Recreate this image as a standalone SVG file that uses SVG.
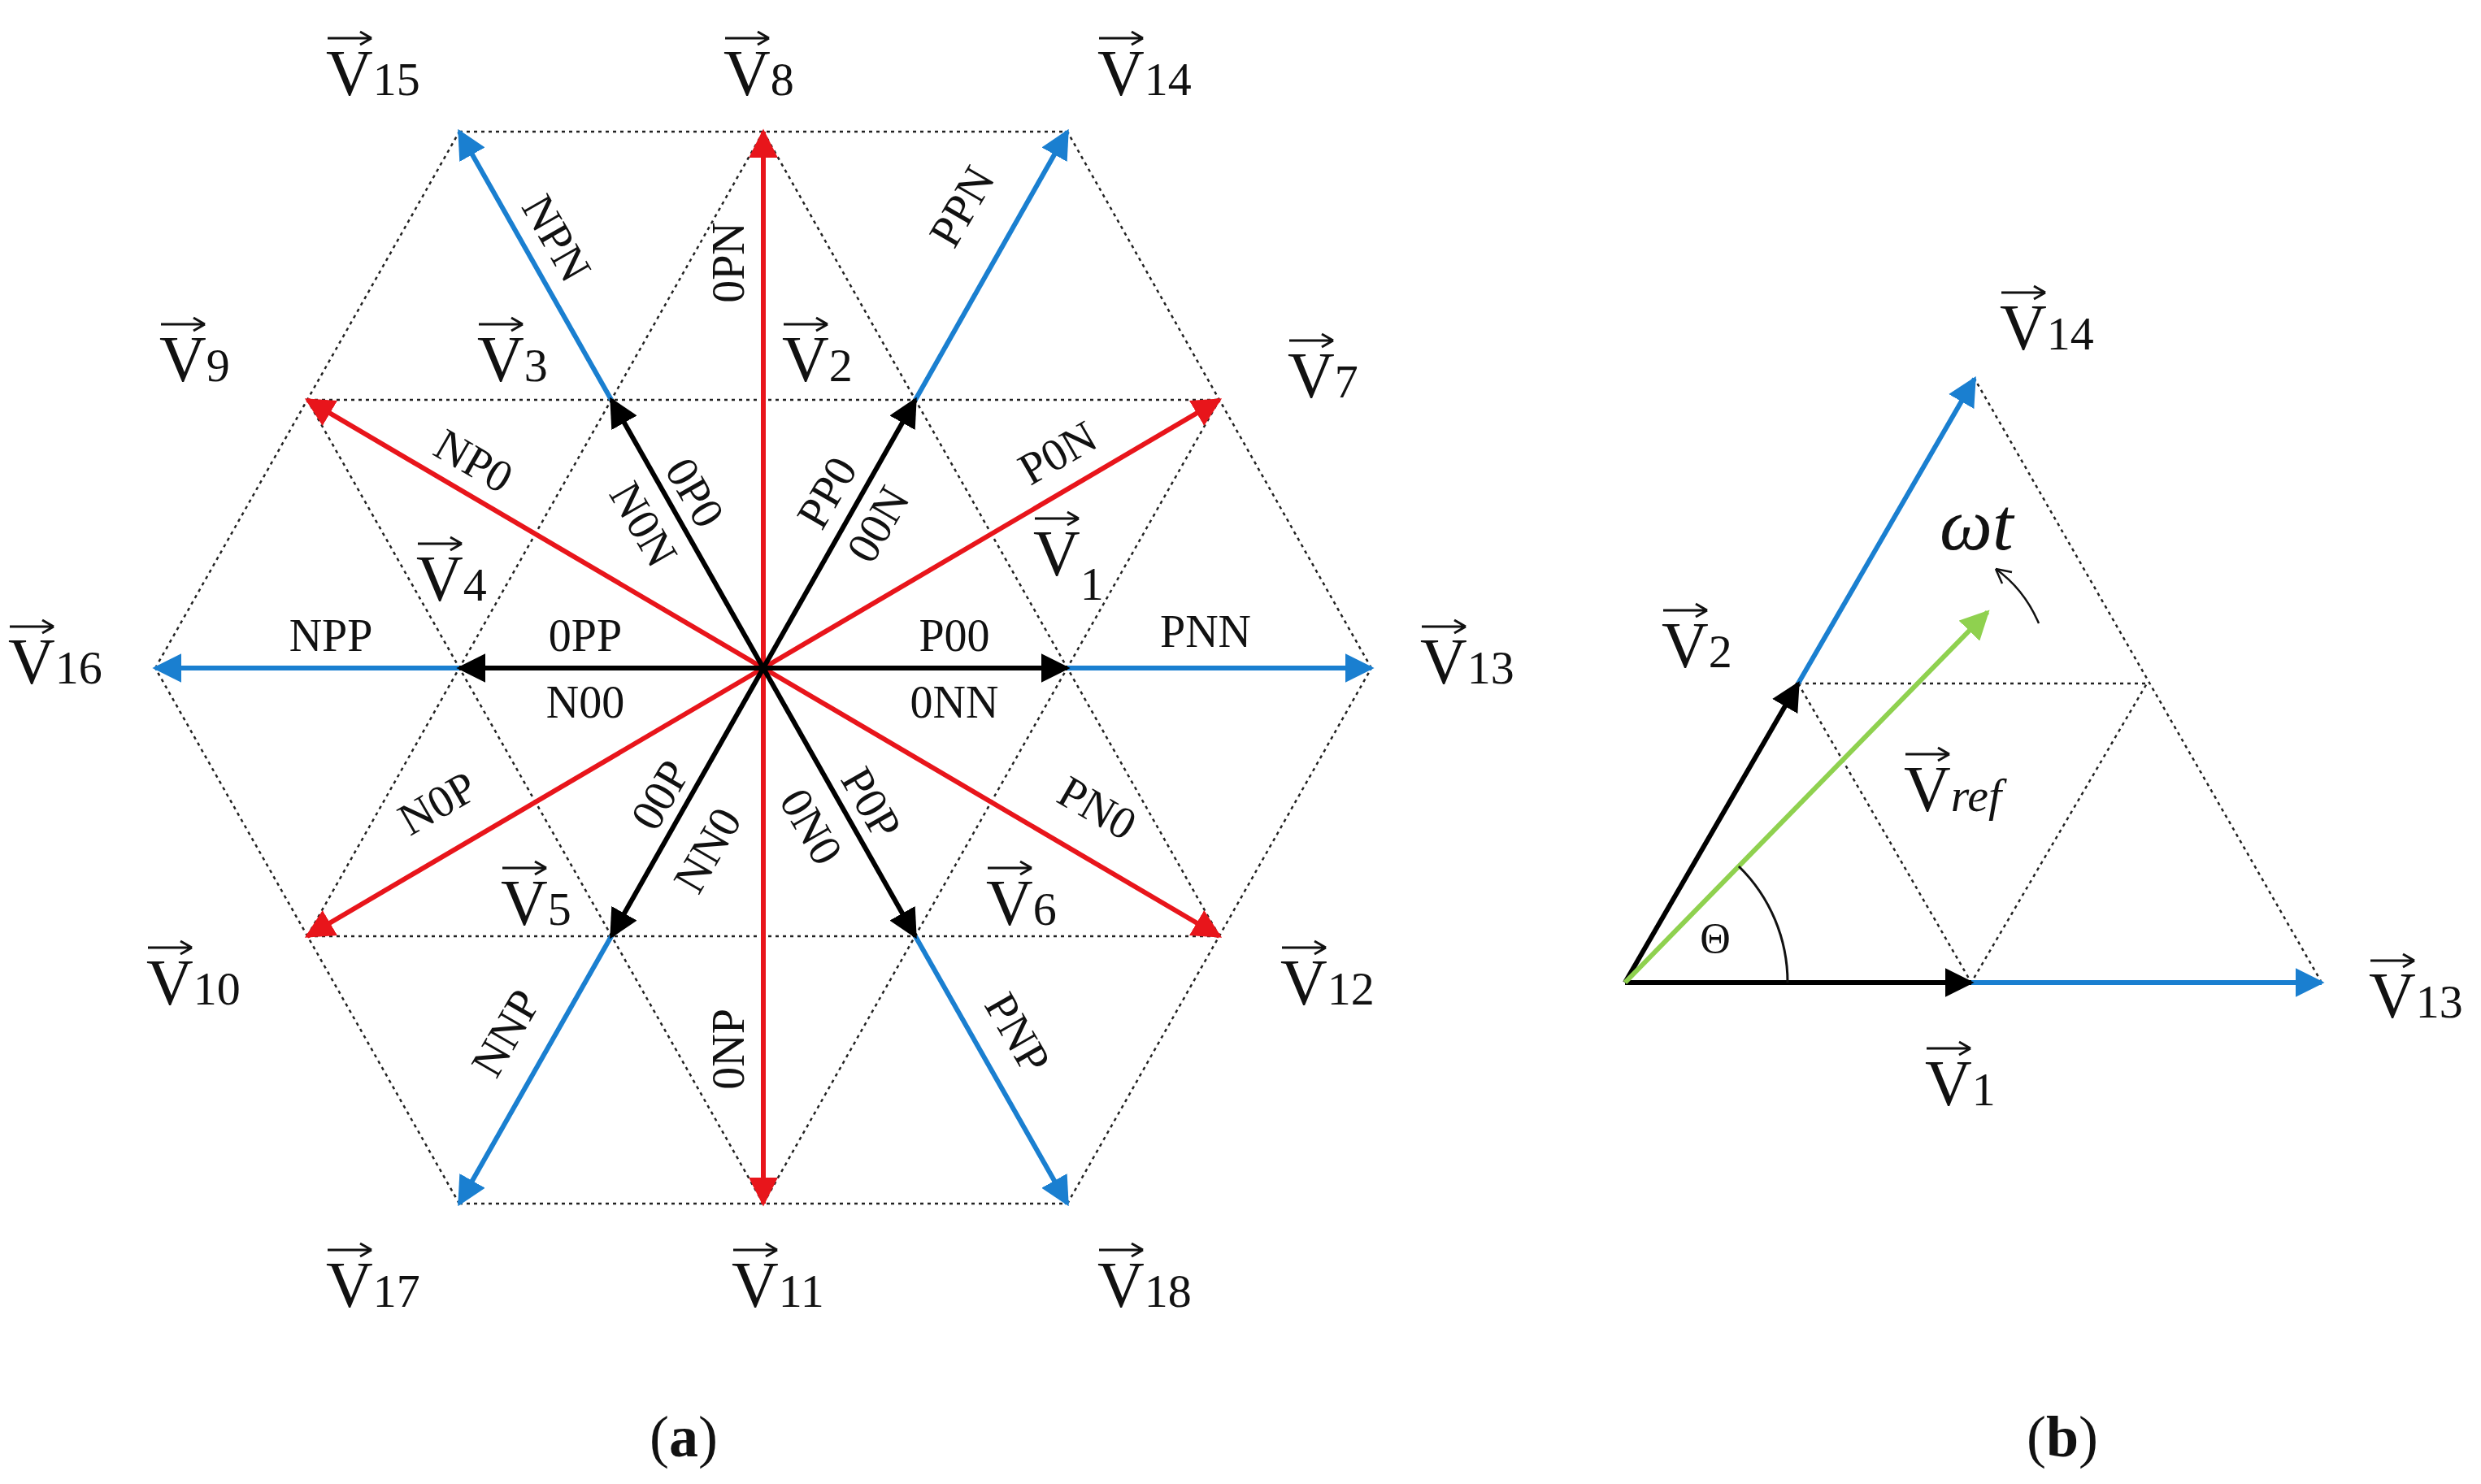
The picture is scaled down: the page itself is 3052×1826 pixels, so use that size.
<svg xmlns="http://www.w3.org/2000/svg" xmlns:xlink="http://www.w3.org/1999/xlink" width="3052" height="1826" viewBox="0 0 3052 1826">
<style>
.dot{stroke:#222;stroke-width:2.5;stroke-dasharray:4 5;fill:none}
.v{stroke-width:6;fill:none}
.k{stroke:#000}.r{stroke:#e8151b}.b{stroke:#1a7fd0}.g{stroke:#8fd14f}
.st{font-family:"Liberation Serif",serif;font-size:56px;text-anchor:middle;dominant-baseline:central;fill:#111}
.vl{font-family:"Liberation Serif",serif;font-size:80px;fill:#111}
.sub{font-size:58px}
.ov{stroke:#111;stroke-width:3;fill:none}
</style>
<defs>
<marker id="ak" viewBox="0 0 10 10" refX="9" refY="5" markerWidth="6" markerHeight="6" orient="auto" markerUnits="strokeWidth"><path d="M0,0L10,5L0,10z" fill="#000"/></marker>
<marker id="ar" viewBox="0 0 10 10" refX="9" refY="5" markerWidth="6" markerHeight="6" orient="auto" markerUnits="strokeWidth"><path d="M0,0L10,5L0,10z" fill="#e8151b"/></marker>
<marker id="ab" viewBox="0 0 10 10" refX="9" refY="5" markerWidth="6" markerHeight="6" orient="auto" markerUnits="strokeWidth"><path d="M0,0L10,5L0,10z" fill="#1a7fd0"/></marker>
<marker id="ag" viewBox="0 0 10 10" refX="9" refY="5" markerWidth="6" markerHeight="6" orient="auto" markerUnits="strokeWidth"><path d="M0,0L10,5L0,10z" fill="#8fd14f"/></marker>
<path id="ov" d="M0,0 h54 M54,0 l-14,-8 M54,0 l-14,8" class="ov"/>
</defs>
<rect width="3052" height="1826" fill="#fff"/>
<g id="lattice-a">
<path class="dot" d="M565,162H1313 M378,492H1500 M191,822H1687 M378,1152H1500 M565,1481H1313
M191,822L565,162 M378,1152L939,162 M565,1481L1313,162 M939,1481L1500,492 M1313,1481L1687,822
M1687,822L1313,162 M1500,1152L939,162 M1313,1481L565,162 M939,1481L378,492 M565,1481L191,822"/>
</g>
<g id="connectors">
<g class="v b" marker-end="url(#ab)">
<line x1="1313" y1="822" x2="1687" y2="822"/><line x1="1126" y1="492" x2="1313" y2="162"/>
<line x1="752" y1="492" x2="565" y2="162"/><line x1="565" y1="822" x2="191" y2="822"/>
<line x1="752" y1="1152" x2="565" y2="1481"/><line x1="1126" y1="1152" x2="1313" y2="1481"/>
</g>
<g class="v r" marker-end="url(#ar)">
<line x1="939" y1="822" x2="1500" y2="492"/><line x1="939" y1="822" x2="939" y2="162"/>
<line x1="939" y1="822" x2="378" y2="492"/><line x1="939" y1="822" x2="378" y2="1152"/>
<line x1="939" y1="822" x2="939" y2="1481"/><line x1="939" y1="822" x2="1500" y2="1152"/>
</g>
<g class="v k" marker-end="url(#ak)">
<line x1="939" y1="822" x2="1313" y2="822"/><line x1="939" y1="822" x2="1126" y2="492"/>
<line x1="939" y1="822" x2="752" y2="492"/><line x1="939" y1="822" x2="565" y2="822"/>
<line x1="939" y1="822" x2="752" y2="1152"/><line x1="939" y1="822" x2="1126" y2="1152"/>
</g>
</g>
<g id="states-a">
<text class="st" transform="translate(685,293) rotate(60)">NPN</text>
<text class="st" transform="translate(1183,254) rotate(-60)">PPN</text>
<text class="st" transform="translate(896,323) rotate(-90)">0PN</text>
<text class="st" transform="translate(583,567) rotate(30)">NP0</text>
<text class="st" transform="translate(855,606) rotate(60)">0P0</text>
<text class="st" transform="translate(792,645) rotate(60)">N0N</text>
<text class="st" transform="translate(1017,606) rotate(-60)">PP0</text>
<text class="st" transform="translate(1080,645) rotate(-60)">00N</text>
<text class="st" transform="translate(1301,557) rotate(-30)">P0N</text>
<text class="st" x="407" y="782">NPP</text>
<text class="st" x="720" y="782">0PP</text>
<text class="st" x="720" y="864">N00</text>
<text class="st" x="1174" y="782">P00</text>
<text class="st" x="1483" y="777">PNN</text>
<text class="st" x="1174" y="864">0NN</text>
<text class="st" transform="translate(538,988) rotate(-30)">N0P</text>
<text class="st" transform="translate(812,978) rotate(-60)">00P</text>
<text class="st" transform="translate(870,1046) rotate(-60)">NN0</text>
<text class="st" transform="translate(998,1017) rotate(60)">0N0</text>
<text class="st" transform="translate(1072,988) rotate(60)">P0P</text>
<text class="st" transform="translate(1350,994) rotate(30)">PN0</text>
<text class="st" transform="translate(622,1271) rotate(-60)">NNP</text>
<text class="st" transform="translate(896,1291) rotate(-90)">0NP</text>
<text class="st" transform="translate(1252,1271) rotate(60)">PNP</text>
</g>
<g id="vlabels-a">
<g transform="translate(401,117)"><use href="#ov" x="2" y="-70"/><text class="vl">V<tspan class="sub">15</tspan></text></g>
<g transform="translate(890,117)"><use href="#ov" x="2" y="-70"/><text class="vl">V<tspan class="sub">8</tspan></text></g>
<g transform="translate(1350,117)"><use href="#ov" x="2" y="-70"/><text class="vl">V<tspan class="sub">14</tspan></text></g>
<g transform="translate(196,469)"><use href="#ov" x="2" y="-70"/><text class="vl">V<tspan class="sub">9</tspan></text></g>
<g transform="translate(587,469)"><use href="#ov" x="2" y="-70"/><text class="vl">V<tspan class="sub">3</tspan></text></g>
<g transform="translate(962,469)"><use href="#ov" x="2" y="-70"/><text class="vl">V<tspan class="sub">2</tspan></text></g>
<g transform="translate(1584,489)"><use href="#ov" x="2" y="-70"/><text class="vl">V<tspan class="sub">7</tspan></text></g>
<g transform="translate(512,739)"><use href="#ov" x="2" y="-70"/><text class="vl">V<tspan class="sub">4</tspan></text></g>
<g transform="translate(1271,708)"><use href="#ov" x="2" y="-70"/><text class="vl">V<tspan class="sub" dy="30">1</tspan></text></g>
<g transform="translate(10,841)"><use href="#ov" x="2" y="-70"/><text class="vl">V<tspan class="sub">16</tspan></text></g>
<g transform="translate(1747,841)"><use href="#ov" x="2" y="-70"/><text class="vl">V<tspan class="sub">13</tspan></text></g>
<g transform="translate(616,1138)"><use href="#ov" x="2" y="-70"/><text class="vl">V<tspan class="sub">5</tspan></text></g>
<g transform="translate(1213,1138)"><use href="#ov" x="2" y="-70"/><text class="vl">V<tspan class="sub">6</tspan></text></g>
<g transform="translate(180,1236)"><use href="#ov" x="2" y="-70"/><text class="vl">V<tspan class="sub">10</tspan></text></g>
<g transform="translate(1575,1236)"><use href="#ov" x="2" y="-70"/><text class="vl">V<tspan class="sub">12</tspan></text></g>
<g transform="translate(401,1608)"><use href="#ov" x="2" y="-70"/><text class="vl">V<tspan class="sub">17</tspan></text></g>
<g transform="translate(900,1608)"><use href="#ov" x="2" y="-70"/><text class="vl">V<tspan class="sub">11</tspan></text></g>
<g transform="translate(1350,1608)"><use href="#ov" x="2" y="-70"/><text class="vl">V<tspan class="sub">18</tspan></text></g>
</g>
<g id="diagram-b">
<path class="dot" d="M2212,841H2641 M2212,841L2425,1209L2641,841 M2856,1209L2429,466"/>
<line class="v b" x1="2425" y1="1209" x2="2856" y2="1209" marker-end="url(#ab)"/>
<line class="v b" x1="2212" y1="841" x2="2429" y2="466" marker-end="url(#ab)"/>
<line class="v k" x1="1999" y1="1209" x2="2425" y2="1209" marker-end="url(#ak)"/>
<line class="v k" x1="1999" y1="1209" x2="2212" y2="841" marker-end="url(#ak)"/>
<line class="v g" x1="1999" y1="1209" x2="2445" y2="753" marker-end="url(#ag)"/>
<path d="M2199,1209 A200,200 0 0 0 2139,1066" stroke="#111" stroke-width="3" fill="none"/>
<text class="vl" x="2110" y="1172" style="font-size:52px" text-anchor="middle">Θ</text>
<path d="M2508,767 Q2490,725 2455,700" stroke="#111" stroke-width="2.5" fill="none"/>
<path d="M2455,700 l8,18 M2455,700 l20,4" stroke="#111" stroke-width="2.5" fill="none"/>
<text class="vl" x="2386" y="676" style="font-size:92px;font-style:italic">ωt</text>
<g transform="translate(2460,430)"><use href="#ov" x="2" y="-70"/><text class="vl">V<tspan class="sub">14</tspan></text></g>
<g transform="translate(2044,821)"><use href="#ov" x="2" y="-70"/><text class="vl">V<tspan class="sub">2</tspan></text></g>
<g transform="translate(2914,1252)"><use href="#ov" x="2" y="-70"/><text class="vl">V<tspan class="sub">13</tspan></text></g>
<g transform="translate(2368,1360)"><use href="#ov" x="2" y="-70"/><text class="vl">V<tspan class="sub">1</tspan></text></g>
<g transform="translate(2342,998)"><use href="#ov" x="2" y="-70"/><text class="vl">V<tspan class="sub" style="font-style:italic">ref</tspan></text></g>
</g>
<g id="captions" style="font-family:'Liberation Serif',serif;font-size:72px" text-anchor="middle" fill="#111">
<text x="841" y="1792">(<tspan font-weight="bold">a</tspan>)</text>
<text x="2537" y="1792">(<tspan font-weight="bold">b</tspan>)</text>
</g>
</svg>
